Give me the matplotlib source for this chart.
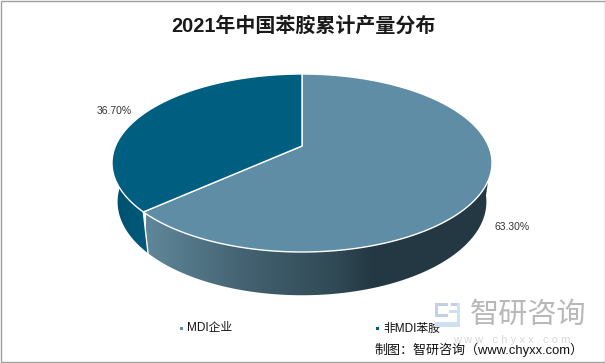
import numpy as np
import matplotlib
matplotlib.use("Agg")
import matplotlib.pyplot as plt
from matplotlib.patches import Polygon, Rectangle
from matplotlib.colors import LinearSegmentedColormap

CJK = ['Liberation Sans', 'Noto Sans CJK SC']
plt.rcParams['font.family'] = CJK

title = "2021年中国苯胺累计产量分布"
categories = ["MDI企业", "非MDI苯胺"]
values = [63.30, 36.70]
labels = ["63.30%", "36.70%"]
top_colors = ["#5f8da6", "#005f80"]
source = "制图：智研咨询（www.chyxx.com）"
watermark = "智研咨询"
watermark_url = "w w w . c h y x x . c o m"

W, H = 605, 363
fig = plt.figure(figsize=(W / 100, H / 100), dpi=100)
ax = fig.add_axes([0, 0, 1, 1])
ax.set_xlim(0, W)
ax.set_ylim(H, 0)
ax.axis("off")

CX, CY, A, B, K = 302, 146, 186.5, 85.75, 0.191
CY2, A2, B2 = 184, 181, 90


def top(t):
    d = 1 + K * np.cos(t)
    return np.c_[CX + A * np.sin(t) / d, CY - B * np.cos(t) / d]


def low(t):
    d = 1 + K * np.cos(t)
    return np.c_[CX + A2 * np.sin(t) / d, CY2 - B2 * np.cos(t) / d]


fracs = np.array(values) / sum(values)
edges = np.r_[0, np.cumsum(fracs)] * 2 * np.pi
tsplit = edges[1]

# side walls
front_a = np.linspace(np.pi * 0.54, tsplit, 200)
front_b = np.linspace(tsplit, np.pi * 1.56, 80)

wall1 = np.r_[top(front_a), low(front_a)[::-1]]
wall2 = np.r_[top(front_b), low(front_b)[::-1]]

cm1 = LinearSegmentedColormap.from_list(
    "a", [(0, "#5f8799"), (0.3, "#42606f"), (0.55, "#304954"), (0.65, "#233842"), (1, "#233842")])
cm2 = LinearSegmentedColormap.from_list("b", ["#00506e", "#005a7c"])
grad = np.linspace(0, 1, 256).reshape(1, -1)

p1 = Polygon(wall1, closed=True, fc="none", ec="none")
ax.add_patch(p1)
im = ax.imshow(grad, cmap=cm1, extent=[146, 494, 300, 150], aspect="auto", zorder=1)
im.set_clip_path(p1)
p2 = Polygon(wall2, closed=True, fc="none", ec="none")
ax.add_patch(p2)
im = ax.imshow(grad, cmap=cm2, extent=[113, 150, 260, 160], aspect="auto", zorder=1)
im.set_clip_path(p2)
ax.set_xlim(0, W)
ax.set_ylim(H, 0)

seam = np.r_[top(np.array([tsplit])), low(np.array([tsplit]))]
ax.plot(seam[:, 0], seam[:, 1], color="white", lw=1.0, zorder=2)

# top faces
apex = np.array([[CX, CY]])
for i, c in enumerate(top_colors):
    t = np.linspace(edges[i], edges[i + 1], 300)
    ax.add_patch(Polygon(np.r_[apex, top(t)], closed=True, fc=c, ec="white", lw=1.0,
                         joinstyle="round", zorder=3))

# data labels
ax.text(512, 227, labels[0], fontsize=7.5, color="#333333", ha="center", va="center")
ax.text(114, 111, labels[1], fontsize=7.5, color="#333333", ha="center", va="center")

# title
ax.text(303.5, 26, title, fontsize=14.4, fontweight="bold", color="#1a1a1a", ha="center", va="center")

# watermark
ax.text(528, 315, watermark, fontsize=21, color="#b8b8b8", ha="center", va="center", zorder=4)
ax.text(512, 340, watermark_url, fontsize=8, color="#d8d8d8", ha="center", va="center", zorder=4)
for r, c in [((435, 303, 13, 3), "#c3cfe2"), ((435, 303, 3, 14), "#c3cfe2"), ((435, 314, 13, 3), "#c3cfe2"),
             ((451, 303, 9, 3), "#c3cfe2"), ((457, 303, 3, 24), "#cfe0f2"), ((449, 310, 8, 3), "#cfe0f2"),
             ((435, 322, 22, 5), "#cfe0f2")]:
    ax.add_patch(Rectangle(r[:2], r[2], r[3], fc=c, ec="none", zorder=4))

# legend
ax.add_patch(Rectangle((179.5, 327), 3, 3, fc=top_colors[0], ec="none"))
ax.add_patch(Rectangle((375.5, 327), 3.5, 3, fc=top_colors[1], ec="none"))
ax.text(187, 328.5, categories[0], fontsize=8.5, color="#111111", ha="left", va="center")
ax.text(383, 328.5, categories[1], fontsize=8.5, color="#111111", ha="left", va="center")

# source
ax.text(374, 350, source, fontsize=9.4, color="#111111", ha="left", va="center", zorder=5)

# frame
ax.add_patch(Rectangle((0.5, 0.5), W - 1, H - 1.5, fc="none", ec="#a0a0a0", lw=1, zorder=6))

fig.savefig("out.png", dpi=100, facecolor="white")
